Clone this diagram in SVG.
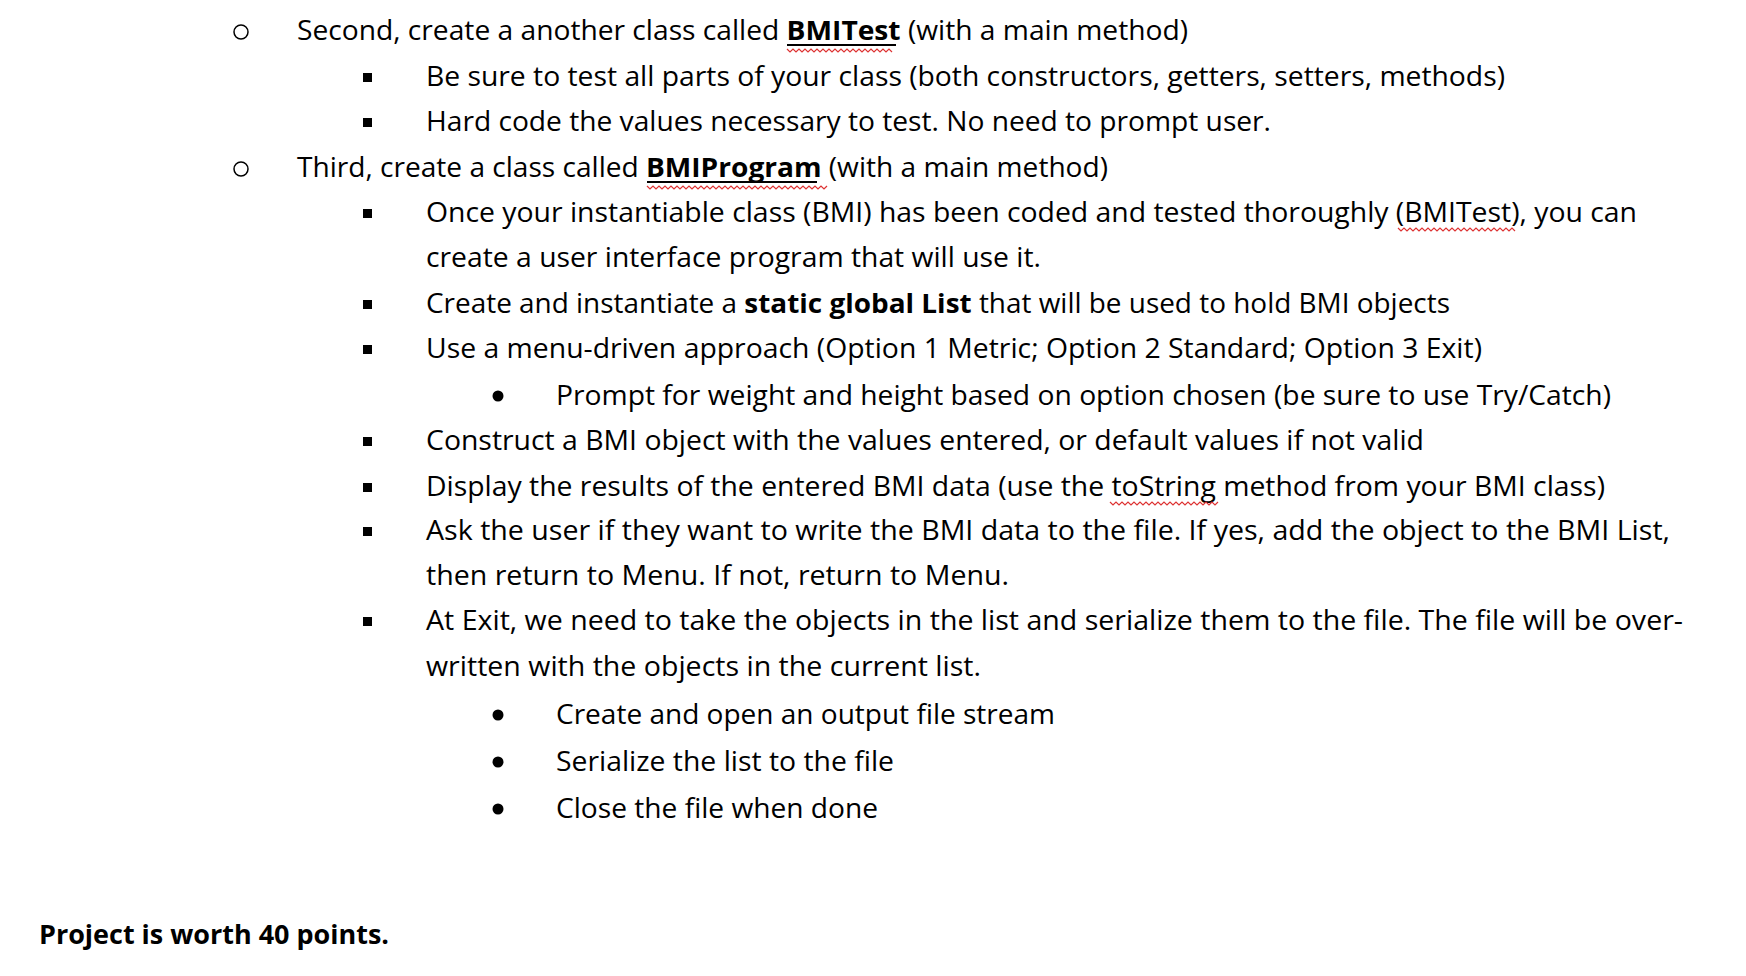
<svg xmlns="http://www.w3.org/2000/svg" width="1746" height="976" viewBox="0 0 1746 976">
<style>
text{font-family:"Open Sans","Liberation Sans",sans-serif;font-size:27px;fill:#000}
.b{font-weight:bold}
.ul{stroke:#000;stroke-width:2}
.sq{fill:none;stroke:#d33;stroke-width:1.2}
</style>
<rect width="1746" height="976" fill="#fff"/>
<g id="bullets">
<circle cx="241" cy="32" r="7" fill="none" stroke="#000" stroke-width="1.5"/>
<circle cx="241" cy="169" r="7" fill="none" stroke="#000" stroke-width="1.5"/>
<rect x="363" y="73" width="9" height="9"/><rect x="363" y="118" width="9" height="9"/>
<rect x="363" y="209" width="9" height="9"/><rect x="363" y="300" width="9" height="9"/>
<rect x="363" y="345" width="9" height="9"/><rect x="363" y="437" width="9" height="9"/>
<rect x="363" y="483" width="9" height="9"/><rect x="363" y="527" width="9" height="9"/>
<rect x="363" y="617" width="9" height="9"/>
<circle cx="498" cy="396" r="5.5"/><circle cx="498" cy="715" r="5.5"/>
<circle cx="498" cy="762" r="5.5"/><circle cx="498" cy="809" r="5.5"/>
</g>
<g id="text">
<text x="297" y="40" textLength="891" lengthAdjust="spacingAndGlyphs">Second, create a another class called <tspan class="b">BMITest</tspan> (with a main method)</text>
<text x="426" y="86" textLength="1079" lengthAdjust="spacingAndGlyphs">Be sure to test all parts of your class (both constructors, getters, setters, methods)</text>
<text x="426" y="131" textLength="845" lengthAdjust="spacingAndGlyphs">Hard code the values necessary to test. No need to prompt user.</text>
<text x="297" y="177" textLength="811" lengthAdjust="spacingAndGlyphs">Third, create a class called <tspan class="b">BMIProgram</tspan> (with a main method)</text>
<text x="426" y="222" textLength="1211" lengthAdjust="spacingAndGlyphs">Once your instantiable class (BMI) has been coded and tested thoroughly (BMITest), you can</text>
<text x="426" y="267" textLength="615" lengthAdjust="spacingAndGlyphs">create a user interface program that will use it.</text>
<text x="426" y="313" textLength="1024" lengthAdjust="spacingAndGlyphs">Create and instantiate a <tspan class="b">static global List</tspan> that will be used to hold BMI objects</text>
<text x="426" y="358" textLength="1056" lengthAdjust="spacingAndGlyphs">Use a menu-driven approach (Option 1 Metric; Option 2 Standard; Option 3 Exit)</text>
<text x="556" y="405" textLength="1055" lengthAdjust="spacingAndGlyphs">Prompt for weight and height based on option chosen (be sure to use Try/Catch)</text>
<text x="426" y="450" textLength="998" lengthAdjust="spacingAndGlyphs">Construct a BMI object with the values entered, or default values if not valid</text>
<text x="426" y="496" textLength="1179" lengthAdjust="spacingAndGlyphs">Display the results of the entered BMI data (use the toString method from your BMI class)</text>
<text x="426" y="540" textLength="1244" lengthAdjust="spacingAndGlyphs">Ask the user if they want to write the BMI data to the file. If yes, add the object to the BMI List,</text>
<text x="426" y="585" textLength="583" lengthAdjust="spacingAndGlyphs">then return to Menu. If not, return to Menu.</text>
<text x="426" y="630" textLength="1257" lengthAdjust="spacingAndGlyphs">At Exit, we need to take the objects in the list and serialize them to the file. The file will be over-</text>
<text x="426" y="676" textLength="555" lengthAdjust="spacingAndGlyphs">written with the objects in the current list.</text>
<text x="556" y="724" textLength="499" lengthAdjust="spacingAndGlyphs">Create and open an output file stream</text>
<text x="556" y="771" textLength="338" lengthAdjust="spacingAndGlyphs">Serialize the list to the file</text>
<text x="556" y="818" textLength="322" lengthAdjust="spacingAndGlyphs">Close the file when done</text>
<text x="39" y="944" class="b" textLength="350" lengthAdjust="spacingAndGlyphs">Project is worth 40 points.</text>
</g>
<g id="underlines">
<line class="ul" x1="787" y1="45" x2="896" y2="45"/>
<line class="ul" x1="647" y1="182" x2="817" y2="182"/>
<path class="sq" d="M787 49 l3 3 l3 -3 l3 3 l3 -3 l3 3 l3 -3 l3 3 l3 -3 l3 3 l3 -3 l3 3 l3 -3 l3 3 l3 -3 l3 3 l3 -3 l3 3 l3 -3 l3 3 l3 -3 l3 3 l3 -3 l3 3 l3 -3 l3 3 l3 -3 l3 3 l3 -3 l3 3 l3 -3 l3 3 l3 -3 l3 3 l3 -3 l3 3"/>
<path class="sq" d="M647 186 l3 3 l3 -3 l3 3 l3 -3 l3 3 l3 -3 l3 3 l3 -3 l3 3 l3 -3 l3 3 l3 -3 l3 3 l3 -3 l3 3 l3 -3 l3 3 l3 -3 l3 3 l3 -3 l3 3 l3 -3 l3 3 l3 -3 l3 3 l3 -3 l3 3 l3 -3 l3 3 l3 -3 l3 3 l3 -3 l3 3 l3 -3 l3 3 l3 -3 l3 3 l3 -3 l3 3 l3 -3 l3 3 l3 -3 l3 3 l3 -3 l3 3 l3 -3 l3 3 l3 -3 l3 3 l3 -3 l3 3 l3 -3 l3 3 l3 -3 l3 3 l3 -3 l3 3 l3 -3 l3 3 l3 -3"/>
<path class="sq" d="M1398 228 l3 3 l3 -3 l3 3 l3 -3 l3 3 l3 -3 l3 3 l3 -3 l3 3 l3 -3 l3 3 l3 -3 l3 3 l3 -3 l3 3 l3 -3 l3 3 l3 -3 l3 3 l3 -3 l3 3 l3 -3 l3 3 l3 -3 l3 3 l3 -3 l3 3 l3 -3 l3 3 l3 -3 l3 3 l3 -3 l3 3 l3 -3 l3 3 l3 -3 l3 3 l3 -3 l3 3"/>
<path class="sq" d="M1110 502 l3 3 l3 -3 l3 3 l3 -3 l3 3 l3 -3 l3 3 l3 -3 l3 3 l3 -3 l3 3 l3 -3 l3 3 l3 -3 l3 3 l3 -3 l3 3 l3 -3 l3 3 l3 -3 l3 3 l3 -3 l3 3 l3 -3 l3 3 l3 -3 l3 3 l3 -3 l3 3 l3 -3 l3 3 l3 -3 l3 3 l3 -3 l3 3 l3 -3"/>
</g>
</svg>
